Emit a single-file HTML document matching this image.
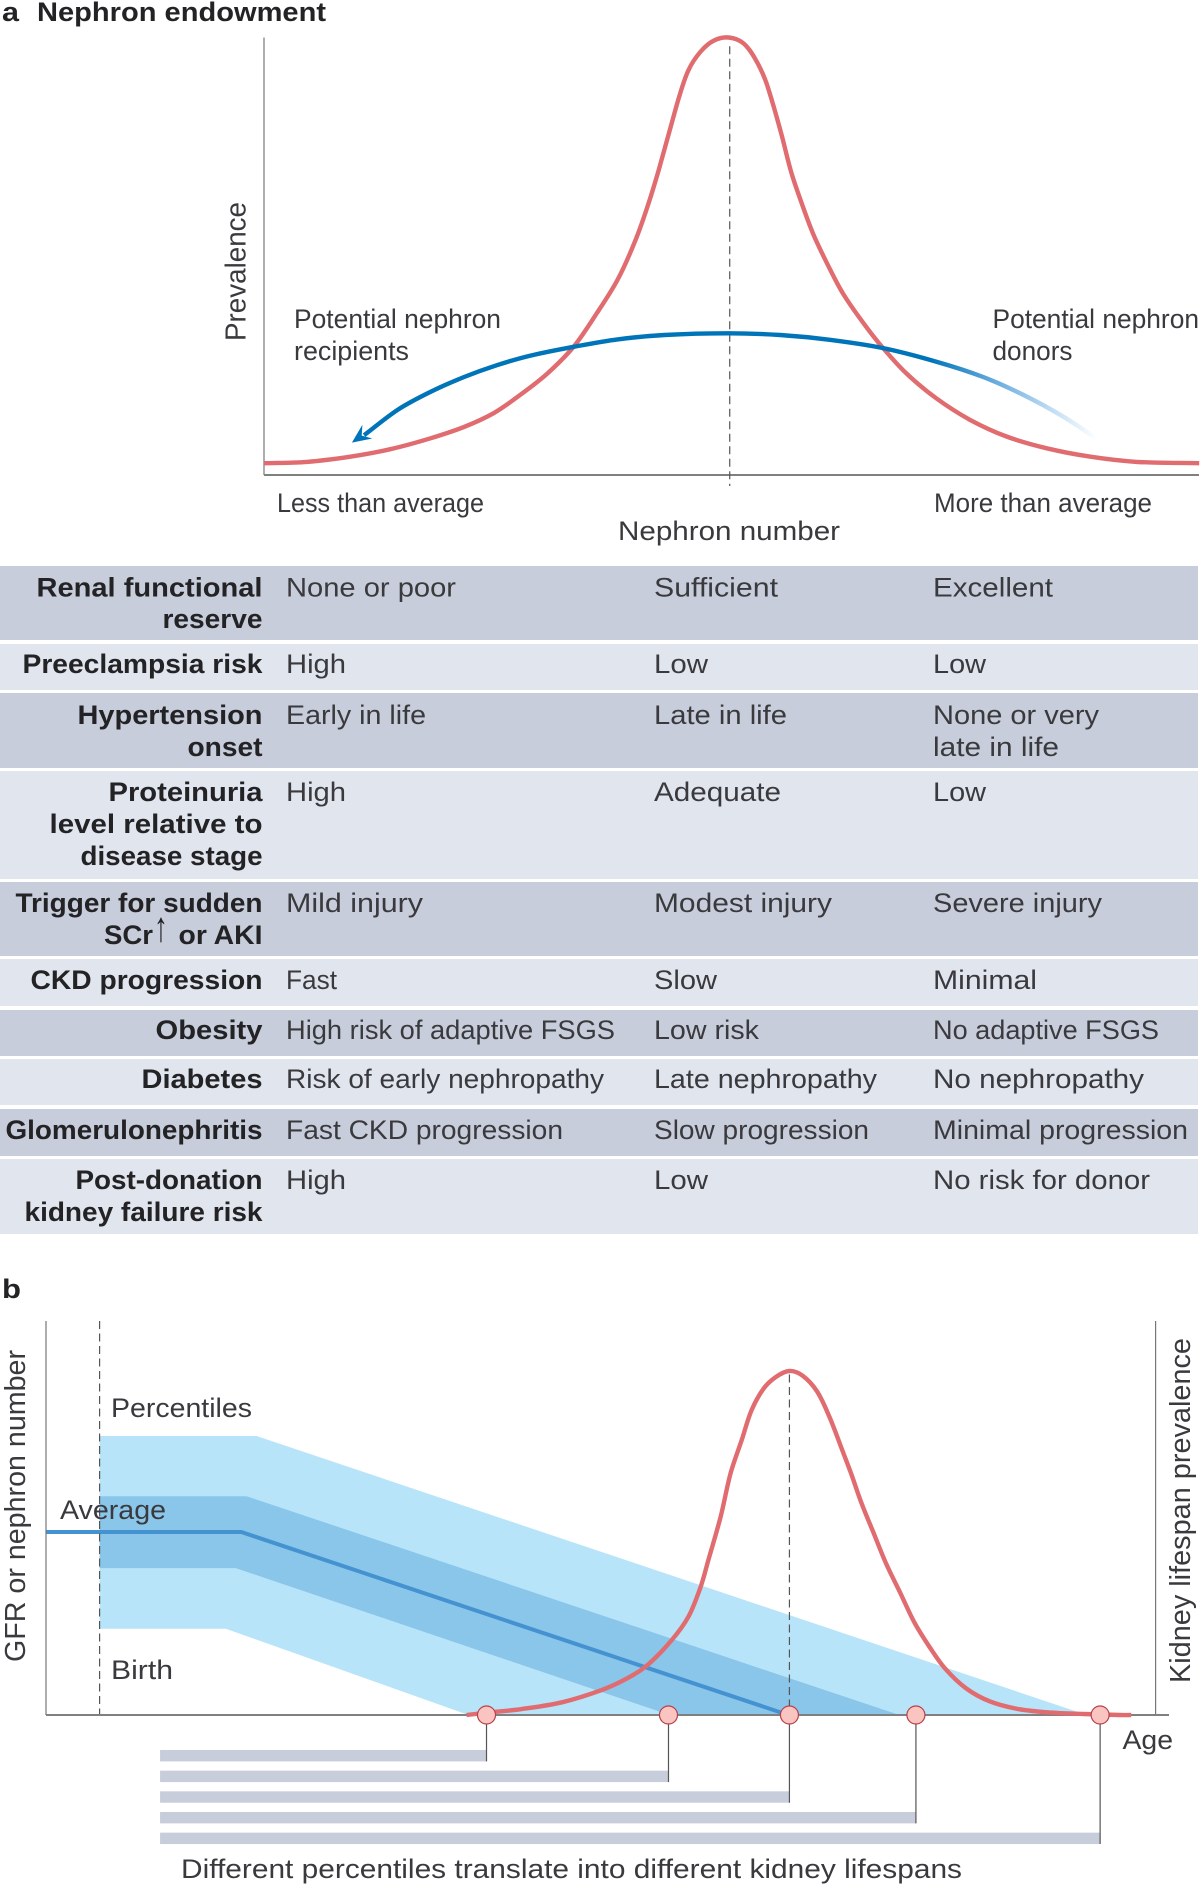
<!DOCTYPE html>
<html lang="en">
<head>
<meta charset="utf-8">
<title>Nephron endowment</title>
<style>
html,body{margin:0;padding:0;background:#fff;width:1200px;height:1886px;overflow:hidden}
svg{display:block}
text{font-family:"Liberation Sans",sans-serif;font-size:27px;fill:#3a3a3e}
.h{font-weight:700;fill:#232326}
.l{text-anchor:end;font-weight:700;fill:#232326}
</style>
</head>
<body>
<svg id="fig" xmlns="http://www.w3.org/2000/svg" width="1200" height="1886" viewBox="0 0 1200 1886">
<defs>
<linearGradient id="arcFade" gradientUnits="userSpaceOnUse" x1="930" y1="0" x2="1097" y2="0">
<stop offset="0" stop-color="#0074b8"/><stop offset="0.4" stop-color="#6badde"/><stop offset="0.75" stop-color="#c5e0f5"/><stop offset="1" stop-color="#ffffff"/>
</linearGradient>
</defs>

<text class="h" x="2" y="21" textLength="17" lengthAdjust="spacingAndGlyphs">a</text>
<text class="h" x="37" y="21" textLength="289" lengthAdjust="spacingAndGlyphs">Nephron endowment</text>
<g id="chartA"></g>
<text transform="translate(245.5,341) rotate(-90)" style="font-size:29px" textLength="139" lengthAdjust="spacingAndGlyphs">Prevalence</text>
<text x="294" y="328" textLength="207" lengthAdjust="spacingAndGlyphs">Potential nephron</text>
<text x="294" y="360" textLength="115" lengthAdjust="spacingAndGlyphs">recipients</text>
<text x="992.5" y="328" textLength="206.5" lengthAdjust="spacingAndGlyphs">Potential nephron</text>
<text x="992.5" y="360" textLength="80" lengthAdjust="spacingAndGlyphs">donors</text>
<text x="277" y="512" textLength="207" lengthAdjust="spacingAndGlyphs">Less than average</text>
<text x="934" y="512" textLength="218" lengthAdjust="spacingAndGlyphs">More than average</text>
<text x="618" y="540" textLength="222" lengthAdjust="spacingAndGlyphs">Nephron number</text>

<g>
<g>
<rect x="0" y="566" width="1198" height="74" fill="#c7cdda"/>
<text class="l" x="262.5" y="596.5" textLength="226" lengthAdjust="spacingAndGlyphs">Renal functional</text>
<text class="l" x="262.5" y="628" textLength="100" lengthAdjust="spacingAndGlyphs">reserve</text>
<text x="286" y="596.5" textLength="170" lengthAdjust="spacingAndGlyphs">None or poor</text>
<text x="654" y="596.5" textLength="124" lengthAdjust="spacingAndGlyphs">Sufficient</text>
<text x="933" y="596.5" textLength="120" lengthAdjust="spacingAndGlyphs">Excellent</text>
</g>
<g>
<rect x="0" y="644" width="1198" height="46" fill="#e1e5ee"/>
<text class="l" x="262.5" y="673" textLength="240" lengthAdjust="spacingAndGlyphs">Preeclampsia risk</text>
<text x="286" y="673" textLength="60" lengthAdjust="spacingAndGlyphs">High</text>
<text x="654" y="673" textLength="54" lengthAdjust="spacingAndGlyphs">Low</text>
<text x="933" y="673" textLength="53" lengthAdjust="spacingAndGlyphs">Low</text>
</g>
<g>
<rect x="0" y="693" width="1198" height="75" fill="#c7cdda"/>
<text class="l" x="262.5" y="724" textLength="185" lengthAdjust="spacingAndGlyphs">Hypertension</text>
<text class="l" x="262.5" y="756" textLength="75" lengthAdjust="spacingAndGlyphs">onset</text>
<text x="286" y="724" textLength="140" lengthAdjust="spacingAndGlyphs">Early in life</text>
<text x="654" y="724" textLength="133" lengthAdjust="spacingAndGlyphs">Late in life</text>
<text x="933" y="724" textLength="166" lengthAdjust="spacingAndGlyphs">None or very</text>
<text x="933" y="756" textLength="126" lengthAdjust="spacingAndGlyphs">late in life</text>
</g>
<g>
<rect x="0" y="771" width="1198" height="108" fill="#e1e5ee"/>
<text class="l" x="262.5" y="801" textLength="154" lengthAdjust="spacingAndGlyphs">Proteinuria</text>
<text class="l" x="262.5" y="833" textLength="213" lengthAdjust="spacingAndGlyphs">level relative to</text>
<text class="l" x="262.5" y="865" textLength="182" lengthAdjust="spacingAndGlyphs">disease stage</text>
<text x="286" y="801" textLength="60" lengthAdjust="spacingAndGlyphs">High</text>
<text x="654" y="801" textLength="127" lengthAdjust="spacingAndGlyphs">Adequate</text>
<text x="933" y="801" textLength="53" lengthAdjust="spacingAndGlyphs">Low</text>
</g>
<g>
<rect x="0" y="882" width="1198" height="74" fill="#c7cdda"/>
<text class="l" x="262.5" y="912" textLength="247" lengthAdjust="spacingAndGlyphs">Trigger for sudden</text>
<text class="h" x="104" y="944" textLength="49" lengthAdjust="spacingAndGlyphs">SCr</text>
<text x="154" y="941" style="font-size:42px;font-weight:400;fill:#232326" textLength="14" lengthAdjust="spacingAndGlyphs">↑</text>
<text class="l" x="262.5" y="944" textLength="84" lengthAdjust="spacingAndGlyphs">or AKI</text>
<text x="286" y="912" textLength="137" lengthAdjust="spacingAndGlyphs">Mild injury</text>
<text x="654" y="912" textLength="178" lengthAdjust="spacingAndGlyphs">Modest injury</text>
<text x="933" y="912" textLength="169" lengthAdjust="spacingAndGlyphs">Severe injury</text>
</g>
<g>
<rect x="0" y="959" width="1198" height="47" fill="#e1e5ee"/>
<text class="l" x="262.5" y="989" textLength="232" lengthAdjust="spacingAndGlyphs">CKD progression</text>
<text x="286" y="989" textLength="51" lengthAdjust="spacingAndGlyphs">Fast</text>
<text x="654" y="989" textLength="63" lengthAdjust="spacingAndGlyphs">Slow</text>
<text x="933" y="989" textLength="104" lengthAdjust="spacingAndGlyphs">Minimal</text>
</g>
<g>
<rect x="0" y="1010" width="1198" height="46" fill="#c7cdda"/>
<text class="l" x="262.5" y="1039" textLength="107" lengthAdjust="spacingAndGlyphs">Obesity</text>
<text x="286" y="1039" textLength="329" lengthAdjust="spacingAndGlyphs">High risk of adaptive FSGS</text>
<text x="654" y="1039" textLength="105" lengthAdjust="spacingAndGlyphs">Low risk</text>
<text x="933" y="1039" textLength="226" lengthAdjust="spacingAndGlyphs">No adaptive FSGS</text>
</g>
<g>
<rect x="0" y="1059" width="1198" height="46" fill="#e1e5ee"/>
<text class="l" x="262.5" y="1088" textLength="121" lengthAdjust="spacingAndGlyphs">Diabetes</text>
<text x="286" y="1088" textLength="318" lengthAdjust="spacingAndGlyphs">Risk of early nephropathy</text>
<text x="654" y="1088" textLength="223" lengthAdjust="spacingAndGlyphs">Late nephropathy</text>
<text x="933" y="1088" textLength="211" lengthAdjust="spacingAndGlyphs">No nephropathy</text>
</g>
<g>
<rect x="0" y="1109" width="1198" height="47" fill="#c7cdda"/>
<text class="l" x="262.5" y="1139" textLength="257" lengthAdjust="spacingAndGlyphs">Glomerulonephritis</text>
<text x="286" y="1139" textLength="277" lengthAdjust="spacingAndGlyphs">Fast CKD progression</text>
<text x="654" y="1139" textLength="215" lengthAdjust="spacingAndGlyphs">Slow progression</text>
<text x="933" y="1139" textLength="255" lengthAdjust="spacingAndGlyphs">Minimal progression</text>
</g>
<g>
<rect x="0" y="1159" width="1198" height="75" fill="#e1e5ee"/>
<text class="l" x="262.5" y="1189" textLength="187" lengthAdjust="spacingAndGlyphs">Post-donation</text>
<text class="l" x="262.5" y="1221" textLength="238" lengthAdjust="spacingAndGlyphs">kidney failure risk</text>
<text x="286" y="1189" textLength="60" lengthAdjust="spacingAndGlyphs">High</text>
<text x="654" y="1189" textLength="54" lengthAdjust="spacingAndGlyphs">Low</text>
<text x="933" y="1189" textLength="217" lengthAdjust="spacingAndGlyphs">No risk for donor</text>
</g>
</g>

<text class="h" x="2" y="1298" textLength="19" lengthAdjust="spacingAndGlyphs">b</text>
<g id="chartB"></g>
<text transform="translate(25,1662) rotate(-90)" style="font-size:29px" textLength="312" lengthAdjust="spacingAndGlyphs">GFR or nephron number</text>
<text transform="translate(1190,1683) rotate(-90)" style="font-size:29px" textLength="345" lengthAdjust="spacingAndGlyphs">Kidney lifespan prevalence</text>
<text x="111" y="1417" textLength="141" lengthAdjust="spacingAndGlyphs">Percentiles</text>
<text x="60" y="1519" textLength="106" lengthAdjust="spacingAndGlyphs">Average</text>
<text x="111" y="1679" textLength="62" lengthAdjust="spacingAndGlyphs">Birth</text>
<text x="1122.5" y="1749" textLength="50.5" lengthAdjust="spacingAndGlyphs">Age</text>
<text x="181" y="1878" textLength="781" lengthAdjust="spacingAndGlyphs">Different percentiles translate into different kidney lifespans</text>
</svg>

<script>
// Panel a values (nephron number on a 0-100 scale, prevalence as % of peak)
const nephronNumber = [0,4.6,9.3,13.5,17.8,21.4,24.6,27.4,30.3,33.1,35.6,37.8,39.6,41,42.2,43.3,44.4,45.4,46.7,48.1,49.7,51.25,52.5,53.6,54.5,55.4,56.4,57.5,58.7,60.2,61.9,64.1,66.2,68.7,71.9,75.5,79.4,83.7,88.3,93.3,100];
const prevalence = [2.7,3,4.2,5.9,8.4,11,14.2,18.3,23.2,29.3,37,44.6,53,61.3,69.7,78.1,86.5,92.6,96.8,99.3,100,98.7,95.2,90.3,84.2,77.3,69,62.1,55.2,48.4,41.5,34.7,29,23.2,17.5,12.6,8.8,6.1,4.2,3,2.7];
const arcNumber = [9.4,10.7,14.3,17.8,21.4,24.9,28.5,33.1,37.8,42.8,49.7,55.2,60.5,66.2,71.9,76.9,81.2,85.5,89];
const arcLevel = [7.4,9.1,14.9,19,22.4,25.1,27.3,29.3,31,32,32.4,32,30.9,29,25.9,22.4,18.3,13.3,8.4];
const meanNephronNumber = 49.8;

// Panel b values (age on a 0-100 scale, GFR and prevalence as % scale)
const outerBandAge = [4.83,18.97,93.8,38.07,16.2,4.83];
const outerBandGfr = [81.1,81.1,0,0,25.1,25.1];
const innerBandAge = [4.83,18.07,76.9,56.2,17.1,4.83];
const innerBandGfr = [63.6,63.6,0,0,42.7,42.7];
const averageAge = [0,17.6,66.9];
const averageGfr = [53.2,53.2,0];
const lifespanAge = [37.9,39.85,42.8,46.5,50.1,52.4,54.2,56.4,57.9,59,59.7,60.8,61.7,62.7,63.6,64.7,65.8,67,68.2,69.5,70.6,71.7,72.6,73.5,74.6,75.7,77,78.3,79.6,81,82.9,85.1,87.7,90.6,93.5,96.8,97.8];
const lifespanPrevalence = [0,0.7,1.7,3.7,7.3,10.7,14.5,21.8,28.6,37.3,45.1,57.6,70.3,79.9,88.7,95,98.3,100,98.6,94,86.7,77.5,69.8,61.5,52.8,44.1,35.4,26.7,19.9,13.6,7.8,3.9,1.7,0.7,0.3,0,0];
const percentileAges = [39.7,56.1,67,78.4,95];
const birthAge = 4.83;
const barStartAge = 10.28;

const NS = 'http://www.w3.org/2000/svg';
const xA = v => 264 + v * (1199.2 - 264) / 100;
const yA = v => 475 - v * (475 - 37.5) / 100;
const xB = v => 46 + v * (1155.6 - 46) / 100;
const yB = v => 1715 - v * (1715 - 1371) / 100;

function make(parent, tag, attrs) {
  const el = document.createElementNS(NS, tag);
  for (const k in attrs) el.setAttribute(k, attrs[k]);
  parent.appendChild(el);
  return el;
}
function spline(xs, ys, fx, fy) {
  const p = xs.map((x, i) => [fx(x), fy(ys[i])]);
  const tangents = p.map((pt, i) => {
    const a = p[Math.max(i - 1, 0)], c = p[Math.min(i + 1, p.length - 1)];
    const l = Math.hypot(c[0] - a[0], c[1] - a[1]) || 1;
    return [(c[0] - a[0]) / l, (c[1] - a[1]) / l];
  });
  let d = 'M' + p[0][0].toFixed(1) + ' ' + p[0][1].toFixed(1);
  for (let i = 0; i < p.length - 1; i++) {
    const b = p[i], c = p[i + 1];
    const h = Math.hypot(c[0] - b[0], c[1] - b[1]) / 3;
    const c1 = [b[0] + tangents[i][0] * h, b[1] + tangents[i][1] * h];
    const c2 = [c[0] - tangents[i + 1][0] * h, c[1] - tangents[i + 1][1] * h];
    d += 'C' + c1[0].toFixed(1) + ' ' + c1[1].toFixed(1) + ' ' + c2[0].toFixed(1) + ' ' + c2[1].toFixed(1) + ' ' + c[0].toFixed(1) + ' ' + c[1].toFixed(1);
  }
  return d;
}
function poly(xs, ys, fx, fy) {
  return xs.map((x, i) => fx(x).toFixed(1) + ',' + fy(ys[i]).toFixed(1)).join(' ');
}

// ---------- Panel a ----------
const A = document.getElementById('chartA');
const yAxisA = make(A, 'line', {x1: xA(0), x2: xA(0), y1: yA(100), y2: yA(0), stroke: '#777', 'stroke-width': 1.2});


const xAxisA = make(A, 'line', {x1: xA(0), x2: 1199, y1: yA(0), y2: yA(0), stroke: '#808080', 'stroke-width': 2});


const meanLineA = make(A, 'line', {x1: xA(meanNephronNumber), x2: xA(meanNephronNumber), y1: yA(98), y2: 486, stroke: '#555', 'stroke-width': 1.2, 'stroke-dasharray': '8 4.5'});


const redCurveA = make(A, 'path', {d: spline(nephronNumber, prevalence, xA, yA), fill: 'none', stroke: '#e06c70', 'stroke-width': 4.4});


const arc = make(A, 'path', {d: spline(arcNumber.slice(1), arcLevel.slice(1), xA, yA), fill: 'none', stroke: 'url(#arcFade)', 'stroke-width': 4.4});


const tx = xA(arcNumber[0]), ty = yA(arcLevel[0]);
const dx = xA(arcNumber[2]) - tx, dy = yA(arcLevel[2]) - ty;
const len = Math.hypot(dx, dy), ux = dx / len, uy = dy / len;
const headPoints = [
  [tx, ty],
  [tx + ux * 19 - uy * 8.5, ty + uy * 19 + ux * 8.5],
  [tx + ux * 12, ty + uy * 12],
  [tx + ux * 19 + uy * 8.5, ty + uy * 19 - ux * 8.5]
].map(p => p[0].toFixed(1) + ',' + p[1].toFixed(1)).join(' ');
const arcHead = make(A, 'polygon', {points: headPoints, fill: '#0074b8'});



// ---------- Panel b ----------
const B = document.getElementById('chartB');
const outerBand = make(B, 'polygon', {points: poly(outerBandAge, outerBandGfr, xB, yB), fill: '#b8e4f9'});


const innerBand = make(B, 'polygon', {points: poly(innerBandAge, innerBandGfr, xB, yB), fill: '#89c6ea'});


const avgLine = make(B, 'polyline', {points: poly(averageAge, averageGfr, xB, yB), fill: 'none', stroke: '#4592d1', 'stroke-width': 4});


const birthLine = make(B, 'line', {x1: xB(birthAge), x2: xB(birthAge), y1: 1321, y2: yB(0), stroke: '#555', 'stroke-width': 1.2, 'stroke-dasharray': '8 4.5'});


const medianLine = make(B, 'line', {x1: xB(percentileAges[2]), x2: xB(percentileAges[2]), y1: yB(99), y2: yB(0), stroke: '#555', 'stroke-width': 1.2, 'stroke-dasharray': '8 4.5'});


const leftAxis = make(B, 'line', {x1: xB(0), x2: xB(0), y1: 1321, y2: yB(0), stroke: '#777', 'stroke-width': 1.2});


const rightAxis = make(B, 'line', {x1: xB(100), x2: xB(100), y1: 1321, y2: yB(0), stroke: '#777', 'stroke-width': 1.2});



percentileAges.forEach((age, i) => {
  const top = 1750 + i * 20.66;
  const bar = make(B, 'rect', {x: xB(barStartAge), y: top, width: xB(age) - xB(barStartAge), height: 11.4, fill: '#c7cdda'});
  
  
  const leader = make(B, 'line', {x1: xB(age), x2: xB(age), y1: yB(0), y2: top + 11.4, stroke: '#555', 'stroke-width': 1.2});
  
  
});

const xAxisB = make(B, 'line', {x1: xB(0), x2: 1169, y1: yB(0), y2: yB(0), stroke: '#808080', 'stroke-width': 2});


const redCurveB = make(B, 'path', {d: spline(lifespanAge, lifespanPrevalence, xB, yB), fill: 'none', stroke: '#e06c70', 'stroke-width': 4.4});


percentileAges.forEach(age => {
  const dot = make(B, 'circle', {cx: xB(age), cy: yB(0), r: 9, fill: '#fac4c0', stroke: '#b8404a', 'stroke-width': 1.2});
  
  
});
</script>
</body>
</html>
